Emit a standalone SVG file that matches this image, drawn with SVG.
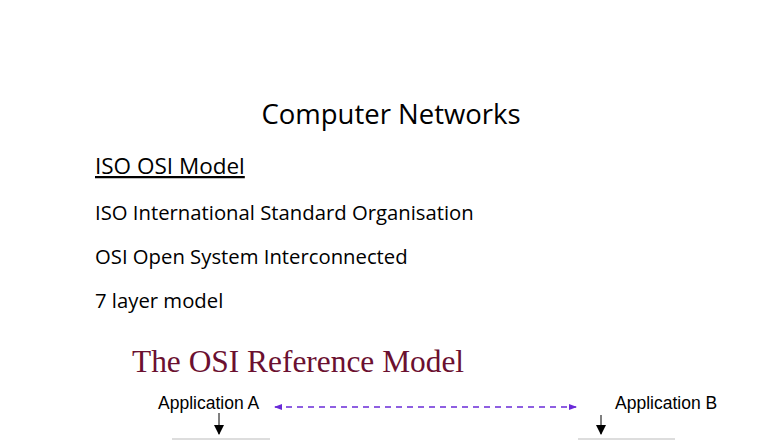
<svg xmlns="http://www.w3.org/2000/svg" width="784" height="441" viewBox="0 0 784 441">
<style>
.t{font-family:"Open Sans","Liberation Sans",sans-serif;fill:#000}
.a{font-family:"Liberation Sans",Arial,sans-serif;font-size:17.5px;fill:#000}
</style>
<defs>
<marker id="ah" markerWidth="10" markerHeight="10" refX="9" refY="5" orient="auto" markerUnits="userSpaceOnUse"><path d="M0,0 L10,5 L0,10 z" fill="#000"/></marker>
<marker id="pe" markerWidth="8" markerHeight="8" refX="7" refY="4" orient="auto-start-reverse" markerUnits="userSpaceOnUse"><path d="M0,1 L8,4 L0,7 z" fill="#6a2ad8"/></marker>
</defs>
<rect width="784" height="441" fill="#fff"/>
<text class="t" x="391" y="124" text-anchor="middle" font-size="27.5">Computer Networks</text>
<text class="t" x="95" y="174" font-size="22.5" text-decoration="underline">ISO OSI Model</text>
<text class="t" x="95" y="220" font-size="20.3">ISO International Standard Organisation</text>
<text class="t" x="95" y="264" font-size="20.3">OSI Open System Interconnected</text>
<text class="t" x="95" y="308" font-size="20.3">7 layer model</text>
<text x="132" y="372" font-family="Liberation Serif,serif" font-size="31.4" fill="#6b1030">The OSI Reference Model</text>
<g id="appA"><text class="a" x="158" y="409">Application A</text></g>
<g id="appB"><text class="a" x="615" y="409">Application B</text></g>
<g id="connectors">
<line x1="275" y1="407" x2="576" y2="407" stroke="#6a2ad8" stroke-width="1.5" stroke-dasharray="6,5" marker-start="url(#pe)" marker-end="url(#pe)"/>
<line x1="219" y1="413" x2="219" y2="434" stroke="#000" marker-end="url(#ah)"/>
<line x1="601" y1="415" x2="601" y2="434" stroke="#000" marker-end="url(#ah)"/>
<line x1="172" y1="439" x2="270" y2="439" stroke="#bbb"/>
<line x1="578" y1="439" x2="675" y2="439" stroke="#bbb"/>
</g>
</svg>
